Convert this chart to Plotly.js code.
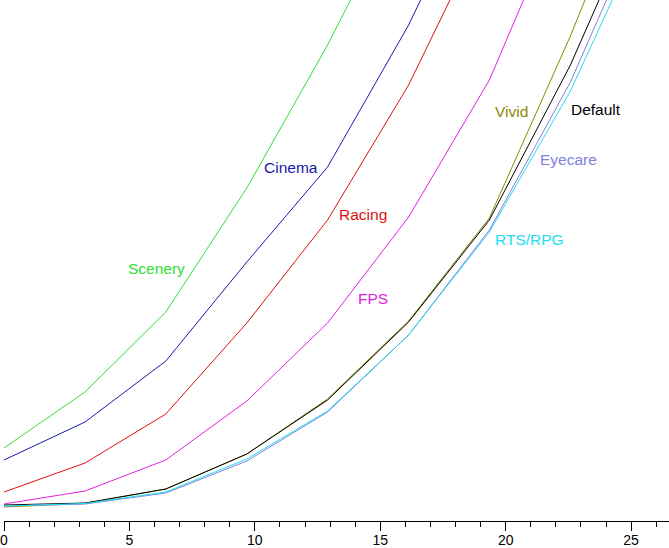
<!DOCTYPE html>
<html>
<head>
<meta charset="utf-8">
<script src="https://cdn.plot.ly/plotly-3.0.1.min.js"></script>
<style>html,body{margin:0;padding:0;background:#fff;}#chart{width:669px;height:548px;}</style>
</head>
<body>
<div id="chart"></div>
<script>
var xSteps = [0, 3.23, 6.45, 9.68, 12.9, 16.13, 19.35, 22.58, 25.81];

var seriesNames = ["Scenery", "Cinema", "Racing", "FPS", "Vivid", "Default", "Eyecare", "RTS/RPG"];
var seriesColors = ["#33dd33", "#1a1aaa", "#e01010", "#e020e0", "#8a8a00", "#000000", "#8080dd", "#22ddf0"];

var scenery = [14.6, 25.8, 41.8, 66.6, 95.2, 127.0];
var cinema  = [12.2, 19.8, 32.0, 51.8, 70.8, 99.2, 132.8];
var racing  = [5.8, 11.6, 21.4, 39.6, 60.2, 87.2, 120.4];
var fps     = [3.4, 6.0, 12.2, 24.0, 39.6, 60.8, 88.2, 126.2];
var vivid   = [2.8, 3.5, 6.4, 13.4, 24.4, 40.0, 60.6, 97.0, 137.0];
var deflt   = [3.2, 3.6, 6.4, 13.4, 24.2, 39.8, 60.2, 91.2, 128.0];
var eyecare = [3.0, 3.4, 5.6, 12.0, 21.8, 37.2, 58.2, 87.8, 124.6];
var rtsrpg  = [3.0, 3.5, 5.8, 12.4, 22.0, 37.2, 57.8, 86.0, 121.2];

var seriesValues = [scenery, cinema, racing, fps, vivid, deflt, eyecare, rtsrpg];

// label anchor positions (data coordinates)
var labelX = [6.08, 11.44, 14.33, 14.71, 20.24, 23.58, 22.49, 20.95];
var labelY = [50.6, 70.8, 61.4, 44.6, 82.0, 82.4, 72.4, 56.4];

var traces = seriesNames.map(function (name, i) {
  var vals = seriesValues[i];
  return {
    type: "scatter",
    mode: "lines",
    name: name,
    x: xSteps.slice(0, vals.length),
    y: vals,
    line: {color: seriesColors[i], width: 1},
    hoverinfo: "skip"
  };
});

var annotations = seriesNames.map(function (name, i) {
  return {
    x: labelX[i], y: labelY[i], xref: "x", yref: "y",
    text: name, showarrow: false,
    font: {family: "Liberation Sans, Arial, sans-serif", size: 15.5, color: seriesColors[i]},
    xanchor: "center", yanchor: "middle"
  };
});

var layout = {
  width: 669, height: 548,
  margin: {l: 4, r: 0, t: 0, b: 27, pad: 0},
  paper_bgcolor: "#ffffff",
  plot_bgcolor: "#ffffff",
  showlegend: false,
  xaxis: {
    range: [0, 26.51],
    showgrid: false, zeroline: false,
    showline: true, linecolor: "#000", linewidth: 1,
    ticks: "outside", ticklen: 9, tickwidth: 1, tickcolor: "#000",
    dtick: 5, tick0: 0,
    ticklabeloverflow: "allow",
    ticklabelstandoff: -3,
    minor: {dtick: 1, ticks: "outside", ticklen: 5, tickwidth: 1, tickcolor: "#000", showgrid: false},
    tickfont: {family: "Liberation Sans, Arial, sans-serif", size: 14, color: "#000"},
    fixedrange: true
  },
  yaxis: {
    range: [0, 104.2],
    visible: false, showgrid: false, zeroline: false,
    fixedrange: true
  },
  annotations: annotations
};

Plotly.newPlot("chart", traces, layout, {displayModeBar: false, staticPlot: true});
</script>
</body>
</html>
